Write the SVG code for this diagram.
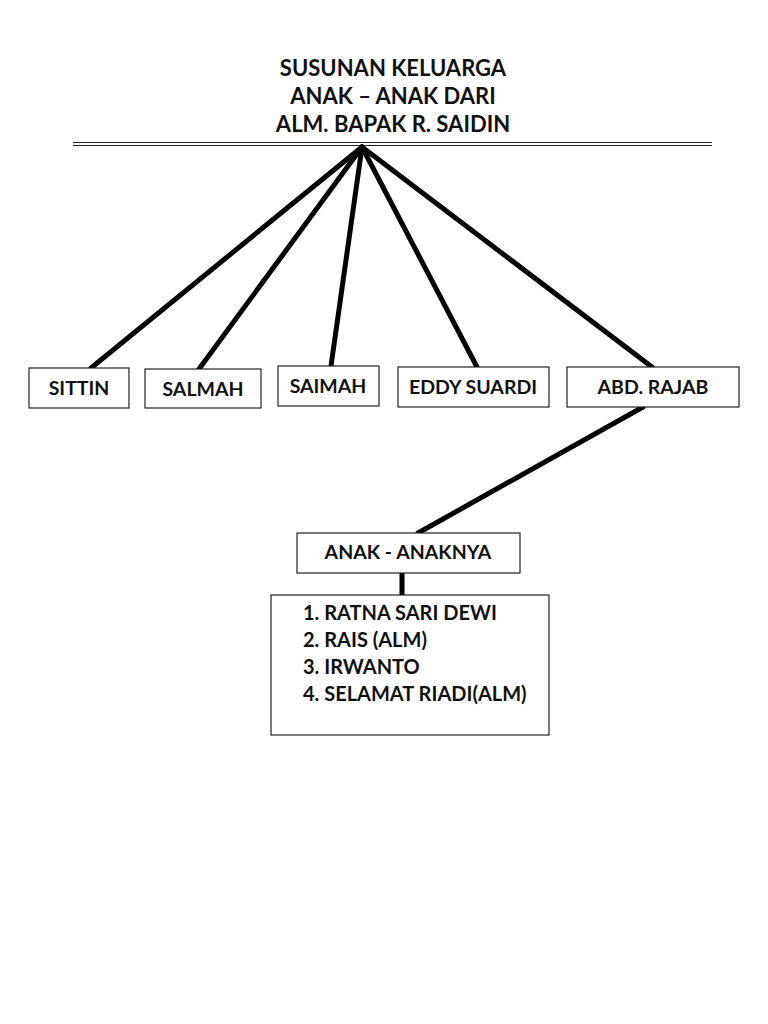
<svg xmlns="http://www.w3.org/2000/svg" width="768" height="1024" viewBox="0 0 768 1024">
<style>
text{font-family:Lato,"Open Sans","Liberation Sans",sans-serif;font-weight:bold;fill:#111}
.t{font-size:22px;text-anchor:middle}
.b{font-size:19.5px;text-anchor:middle}
.l{font-size:20px}
.box{fill:#fff;stroke:#222;stroke-width:1.2}
.c line{stroke:#000;stroke-width:5;stroke-linecap:round}
</style>
<rect width="768" height="1024" fill="#fff"/>
<g id="title">
<text class="t" x="393" y="76">SUSUNAN KELUARGA</text>
<text class="t" x="393" y="104">ANAK – ANAK DARI</text>
<text class="t" x="393" y="132">ALM. BAPAK R. SAIDIN</text>
<line x1="73" y1="142.5" x2="712" y2="142.5" stroke="#222" stroke-width="1.2"/>
<line x1="73" y1="145.5" x2="712" y2="145.5" stroke="#222" stroke-width="1.2"/>
</g>
<g class="c" id="connectors">
<line x1="362" y1="147" x2="91" y2="368"/>
<line x1="362" y1="147" x2="199" y2="369"/>
<line x1="362" y1="147" x2="331" y2="366"/>
<line x1="362" y1="147" x2="477" y2="367"/>
<line x1="362" y1="147" x2="652" y2="367"/>
<line x1="643" y1="407" x2="418" y2="533"/>
<line x1="402" y1="574" x2="402" y2="595"/>
</g>
<g id="sittin"><rect class="box" x="29" y="368" width="100" height="40"/><text class="b" x="79" y="395">SITTIN</text></g>
<g id="salmah"><rect class="box" x="145" y="369" width="116" height="39"/><text class="b" x="203" y="396">SALMAH</text></g>
<g id="saimah"><rect class="box" x="278" y="366" width="101" height="40"/><text class="b" x="328" y="393">SAIMAH</text></g>
<g id="eddy"><rect class="box" x="398" y="367" width="151" height="40"/><text class="b" x="473" y="394">EDDY SUARDI</text></g>
<g id="abdrajab"><rect class="box" x="567" y="367" width="172" height="40"/><text class="b" x="653" y="394">ABD. RAJAB</text></g>
<g id="anaknya"><rect class="box" x="297" y="533" width="223" height="40"/><text class="b" x="408" y="559">ANAK - ANAKNYA</text></g>
<g id="list"><rect class="box" x="271" y="595" width="278" height="140"/>
<text class="l" x="303" y="620">1. RATNA SARI DEWI</text>
<text class="l" x="303" y="647">2. RAIS (ALM)</text>
<text class="l" x="303" y="674">3. IRWANTO</text>
<text class="l" x="303" y="701">4. SELAMAT RIADI(ALM)</text>
</g>
</svg>
